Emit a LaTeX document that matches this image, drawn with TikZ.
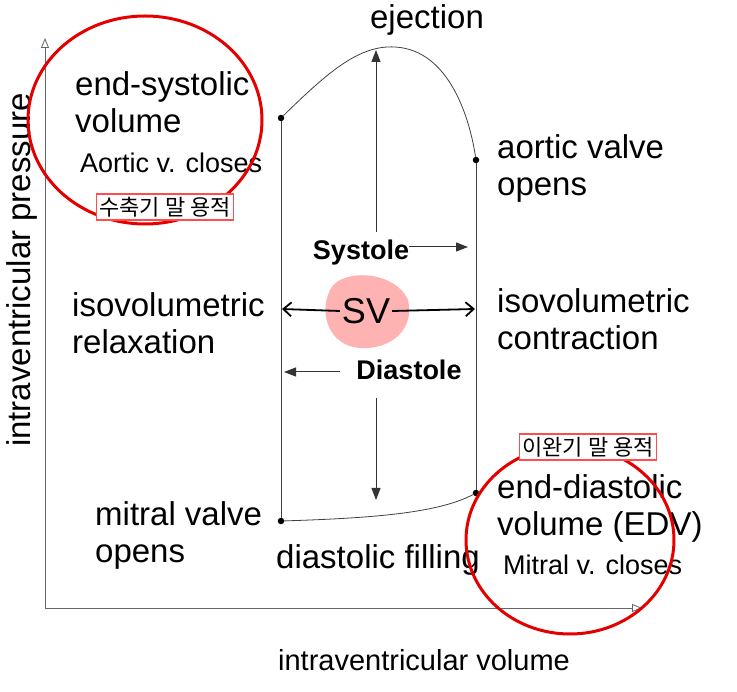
\documentclass[tikz,border=0pt]{standalone}
\usepackage{fontspec}
\setmainfont{Liberation Sans}
\newfontfamily\kr{Noto Sans CJK KR}
\usetikzlibrary{arrows.meta}
\begin{document}
\begin{tikzpicture}[x=1pt,y=-1pt,
  big/.style={font=\fontsize{33}{37}\selectfont,align=left,anchor=west,inner sep=0},
  mid/.style={font=\fontsize{27}{30}\selectfont,anchor=west,inner sep=0},
  bld/.style={font=\fontsize{27}{30}\selectfont\bfseries,inner sep=0},
  thin/.style={draw=black!75,line width=0.8pt},
  dot/.style={circle,fill=black,inner sep=0,minimum size=6.5pt},
  redc/.style={draw=red!90!black,line width=3pt},
  krbox/.style={draw=red!70,line width=1.5pt,fill=white,font=\kr\fontsize{22}{26}\selectfont,inner sep=3pt},
  arr/.style={black!80,line width=1pt,-{Triangle[length=12pt,width=9pt]}},
  ax/.style={black!60,line width=0.8pt,-{Triangle[open,length=10pt,width=8pt]}}]
\useasboundingbox (0,0) rectangle (737,692);
\fill[red!30] (330,290) .. controls (340,268) and (395,270) .. (408,300) .. controls (415,330) and (390,350) .. (360,348) .. controls (330,346) and (318,315) .. (330,290) -- cycle;
\coordinate (o) at (45,608);
\coordinate (ytop) at (45,38);
\coordinate (xend) at (642,608);
\draw[ax] (o) -- (ytop);
\draw[ax] (o) -- (xend);
\node[dot] (esv) at (281,118) {};
\node[dot] (mvo) at (281,521) {};
\node[dot] (avo) at (476,160) {};
\node[dot] (edv) at (476,493) {};
\draw[thin] (esv) -- (mvo);
\draw[thin] (avo) -- (edv);
\draw[thin] (esv) .. controls (330,70) and (360,45) .. (395,47) .. controls (450,50) and (470,120) .. (avo);
\draw[thin] (mvo) .. controls (380,518) and (440,512) .. (edv);
\coordinate (u1) at (376,232); \coordinate (u2) at (376,50);
\draw[arr] (u1) -- (u2);
\coordinate (d1) at (376,398); \coordinate (d2) at (376,500);
\draw[arr] (d1) -- (d2);
\node[bld] (sys) at (361,253) {Systole};
\node[bld] (dia) at (409,370) {Diastole};
\coordinate (s2) at (468,247);
\draw[arr] (sys.east) ++(0,-6) -- (s2);
\coordinate (ds) at (340,372); \coordinate (de) at (284,372);
\draw[arr] (ds) -- (de);
\node[font=\fontsize{36}{40}\selectfont,inner sep=2pt] (sv) at (366,311) {SV};
\coordinate (svl) at (282,309); \coordinate (svr) at (475,309);
\draw[black,line width=1.8pt,-{Straight Barb[length=8pt,width=14pt]}] (sv.west) -- (svl);
\draw[black,line width=1.8pt,-{Straight Barb[length=8pt,width=14pt]}] (sv.east) -- (svr);
\node[font=\fontsize{33}{37}\selectfont,inner sep=0] (ej) at (427,20) {ejection};
\node[big] (esvt) at (75,102) {end-systolic\\volume};
\node[mid] (aoc) at (80,163) {Aortic v. closes};
\node[big] (avot) at (497,168) {aortic valve\\opens};
\node[big] (ivr) at (72,323) {isovolumetric\\relaxation};
\node[big] (ivc) at (497,319) {isovolumetric\\contraction};
\node[big] (mvot) at (95,535) {mitral valve\\opens};
\node[font=\fontsize{33}{37}\selectfont,inner sep=0] (dft) at (378,560) {diastolic filling};
\node[big] (edvt) at (497,508) {end-diastolic\\volume (EDV)};
\node[mid] (mvc) at (503,565) {Mitral v. closes};
\node[font=\fontsize{29}{32}\selectfont,inner sep=0] (xl) at (424,660) {intraventricular volume};
\node[font=\fontsize{33}{36}\selectfont,inner sep=0,rotate=90] (yl) at (22,270) {intraventricular pressure};
\draw[redc] (145,120) ellipse [x radius=117, y radius=104];
\draw[redc] (570,540) ellipse [x radius=104, y radius=94];
\node[krbox] (k1) at (165,207) {수축기 말 용적};
\node[krbox] (k2) at (588,447) {이완기 말 용적};
\end{tikzpicture}
\end{document}
